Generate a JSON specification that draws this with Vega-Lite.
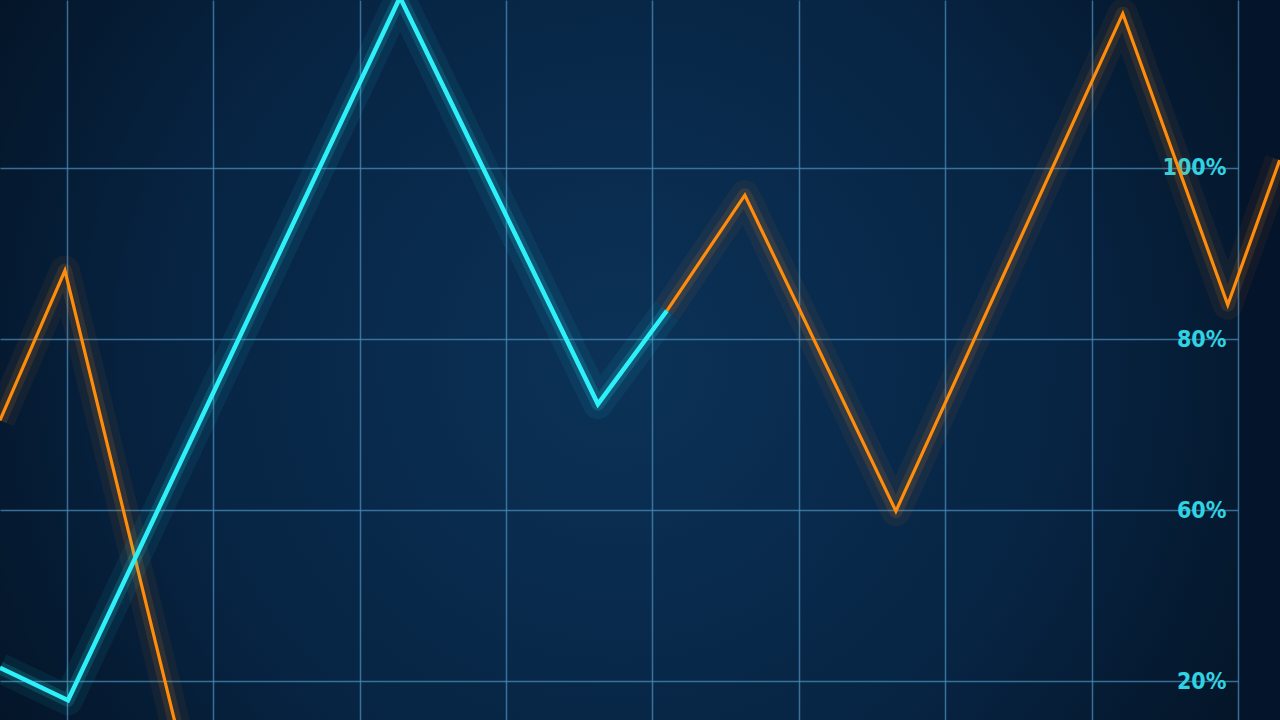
{
  "$schema": "https://vega.github.io/schema/vega-lite/v6.json",
  "width": 1238,
  "height": 720,
  "autosize": {"type": "none"},
  "padding": {"left": 0, "top": 0, "right": 42, "bottom": 0},
  "background": "#04142a",
  "config": {
    "view": {
      "stroke": null,
      "fill": {
        "gradient": "radial",
        "x1": 0.5, "y1": 0.5, "r1": 0,
        "x2": 0.5, "y2": 0.5, "r2": 0.72,
        "stops": [
          {"offset": 0, "color": "#0b3257"},
          {"offset": 0.5, "color": "#072443"},
          {"offset": 1, "color": "#020b16"}
        ]
      }
    },
    "axis": {
      "gridColor": "#4a8bb8",
      "gridOpacity": 0.75,
      "gridWidth": 1.5,
      "domain": false,
      "ticks": false,
      "title": null
    }
  },
  "data": {
    "values": [
      {"series": "cyan", "seg": "c1", "t": -0.458, "v": 41.6},
      {"series": "cyan", "seg": "c1", "t": 0.007, "v": 37.8},
      {"series": "cyan", "seg": "c1", "t": 2.275, "v": 119.9},
      {"series": "cyan", "seg": "c1", "t": 3.627, "v": 72.4},
      {"series": "cyan", "seg": "c1", "t": 4.098, "v": 83.3},
      {"series": "orange", "seg": "o1", "t": -0.458, "v": 70.5},
      {"series": "orange", "seg": "o1", "t": -0.014, "v": 88.0},
      {"series": "orange", "seg": "o1", "t": 0.758, "v": 33.8},
      {"series": "orange", "seg": "o2", "t": 4.098, "v": 83.3},
      {"series": "orange", "seg": "o2", "t": 4.631, "v": 96.8},
      {"series": "orange", "seg": "o2", "t": 5.663, "v": 59.9},
      {"series": "orange", "seg": "o2", "t": 7.213, "v": 118.0},
      {"series": "orange", "seg": "o2", "t": 7.930, "v": 84.0},
      {"series": "orange", "seg": "o2", "t": 8.285, "v": 100.9}
    ]
  },
  "encoding": {
    "x": {
      "field": "t", "type": "quantitative",
      "scale": {"domain": [-0.4577, 8], "nice": false, "zero": false},
      "axis": {"values": [0, 1, 2, 3, 4, 5, 6, 7, 8], "labels": false, "orient": "bottom"}
    },
    "y": {
      "field": "v", "type": "quantitative",
      "scale": {"domain": [35.5, 119.6], "nice": false, "zero": false},
      "axis": {
        "orient": "right",
        "values": [40, 60, 80, 100, 120],
        "labelExpr": "datum.value == 40 ? '20%' : datum.value + '%'",
        "labelAlign": "right",
        "labelPadding": -12,
        "labelBaseline": "middle",
        "labelColor": "#2fd3e2",
        "labelFont": "DejaVu Sans Condensed",
        "labelFontWeight": "bold",
        "labelFontSize": 23
      }
    },
    "detail": {"field": "seg"}
  },
  "layer": [
    {
      "transform": [{"filter": "datum.series == 'orange'"}],
      "mark": {"type": "line", "clip": false, "color": "#ff8a1c", "strokeWidth": 30, "opacity": 0.06, "strokeJoin": "round"}
    },
    {
      "transform": [{"filter": "datum.series == 'orange'"}],
      "mark": {"type": "line", "clip": false, "color": "#ff8a1c", "strokeWidth": 14, "opacity": 0.12, "strokeJoin": "round"}
    },
    {
      "transform": [{"filter": "datum.series == 'orange'"}],
      "mark": {"type": "line", "clip": false, "color": "#ff8c0a", "strokeWidth": 3.2, "strokeJoin": "miter"}
    },
    {
      "transform": [{"filter": "datum.series == 'cyan'"}],
      "mark": {"type": "line", "clip": false, "color": "#22e6f2", "strokeWidth": 30, "opacity": 0.07, "strokeJoin": "round"}
    },
    {
      "transform": [{"filter": "datum.series == 'cyan'"}],
      "mark": {"type": "line", "clip": false, "color": "#22e6f2", "strokeWidth": 13, "opacity": 0.16, "strokeJoin": "round"}
    },
    {
      "transform": [{"filter": "datum.series == 'cyan'"}],
      "mark": {"type": "line", "clip": false, "color": "#2ef0f8", "strokeWidth": 4.5, "strokeJoin": "miter"}
    }
  ]
}
